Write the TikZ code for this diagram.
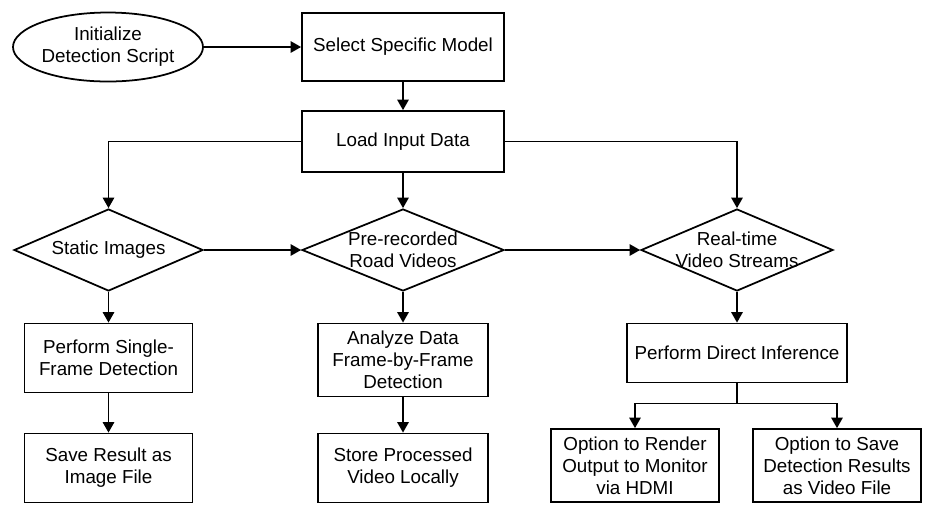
\documentclass[tikz,border=0pt]{standalone}
\usepackage{fontspec}
\setmainfont{Liberation Sans}
\usetikzlibrary{positioning, arrows.meta, shapes.geometric}

\begin{document}
\begin{tikzpicture}[
    txt/.style={font=\fontsize{10.7}{12.6}\selectfont, align=center},
    boite/.style={txt, draw, line width=1pt, inner sep=2pt},
    debut/.style={txt, draw, ellipse, line width=1pt, inner sep=0pt,
                  minimum width=3.8cm, minimum height=1.38cm},
    choix/.style={draw, diamond, line width=1pt, inner sep=0pt,
                  minimum height=1.64cm},
    lien/.style={-{Triangle[length=6pt, width=6.5pt]}, line width=1pt}]

  \useasboundingbox (0,0) rectangle (18.7,-10.32);

  \node[debut] (init) at (2.16,-0.94) {Initialize\\Detection Script};
  \node[boite, minimum width=4.04cm, minimum height=1.36cm] (modele) at (8.06,-0.94)
    {Select Specific Model};
  \node[boite, minimum width=4.04cm, minimum height=1.22cm] (charge) at (8.06,-2.83)
    {Load Input Data};

  \node[choix, minimum width=3.78cm, label={[txt]center:Static Images}] (image)
    at (2.17,-5.0) {};
  \node[choix, minimum width=4.04cm, label={[txt]center:Pre-recorded\\Road Videos}] (video)
    at (8.06,-5.0) {};
  \node[choix, minimum width=3.84cm, label={[txt]center:Real-time\\Video Streams}] (flux)
    at (14.74,-5.0) {};

  \node[boite, minimum width=3.36cm, minimum height=1.38cm] (unique) at (2.17,-7.16)
    {Perform Single-\\Frame Detection};
  \node[boite, minimum width=3.36cm, minimum height=1.38cm] (sauveimg) at (2.17,-9.36)
    {Save Result as\\Image File};
  \node[boite, minimum width=3.4cm, minimum height=1.46cm] (analyse) at (8.06,-7.2)
    {Analyze Data\\Frame-by-Frame\\Detection};
  \node[boite, minimum width=3.4cm, minimum height=1.38cm] (stocke) at (8.06,-9.36)
    {Store Processed\\Video Locally};
  \node[boite, minimum width=4.4cm, minimum height=1.18cm] (direct) at (14.74,-7.06)
    {Perform Direct Inference};
  \node[boite, minimum width=3.36cm, minimum height=1.46cm] (hdmi) at (12.7,-9.31)
    {Option to Render\\Output to Monitor\\via HDMI};
  \node[boite, minimum width=3.36cm, minimum height=1.46cm] (sauvevid) at (16.74,-9.31)
    {Option to Save\\Detection Results\\as Video File};

  \draw[lien] (init) -- (modele);
  \draw[lien] (modele) -- (charge);
  \draw[lien] (charge.west) -| (image.north);
  \draw[lien] (charge) -- (video);
  \draw[lien] (charge.east) -| (flux.north);
  \draw[lien] (image) -- (video);
  \draw[lien] (video) -- (flux);
  \draw[lien] (image) -- (unique);
  \draw[lien] (unique) -- (sauveimg);
  \draw[lien] (video) -- (analyse);
  \draw[lien] (analyse) -- (stocke);
  \draw[lien] (flux) -- (direct);
  \draw[line width=1pt] (direct.south) -- ++(0,-0.4) coordinate (fourche);
  \draw[lien] (fourche) -| (hdmi.north);
  \draw[lien] (fourche) -| (sauvevid.north);
\end{tikzpicture}
\end{document}
